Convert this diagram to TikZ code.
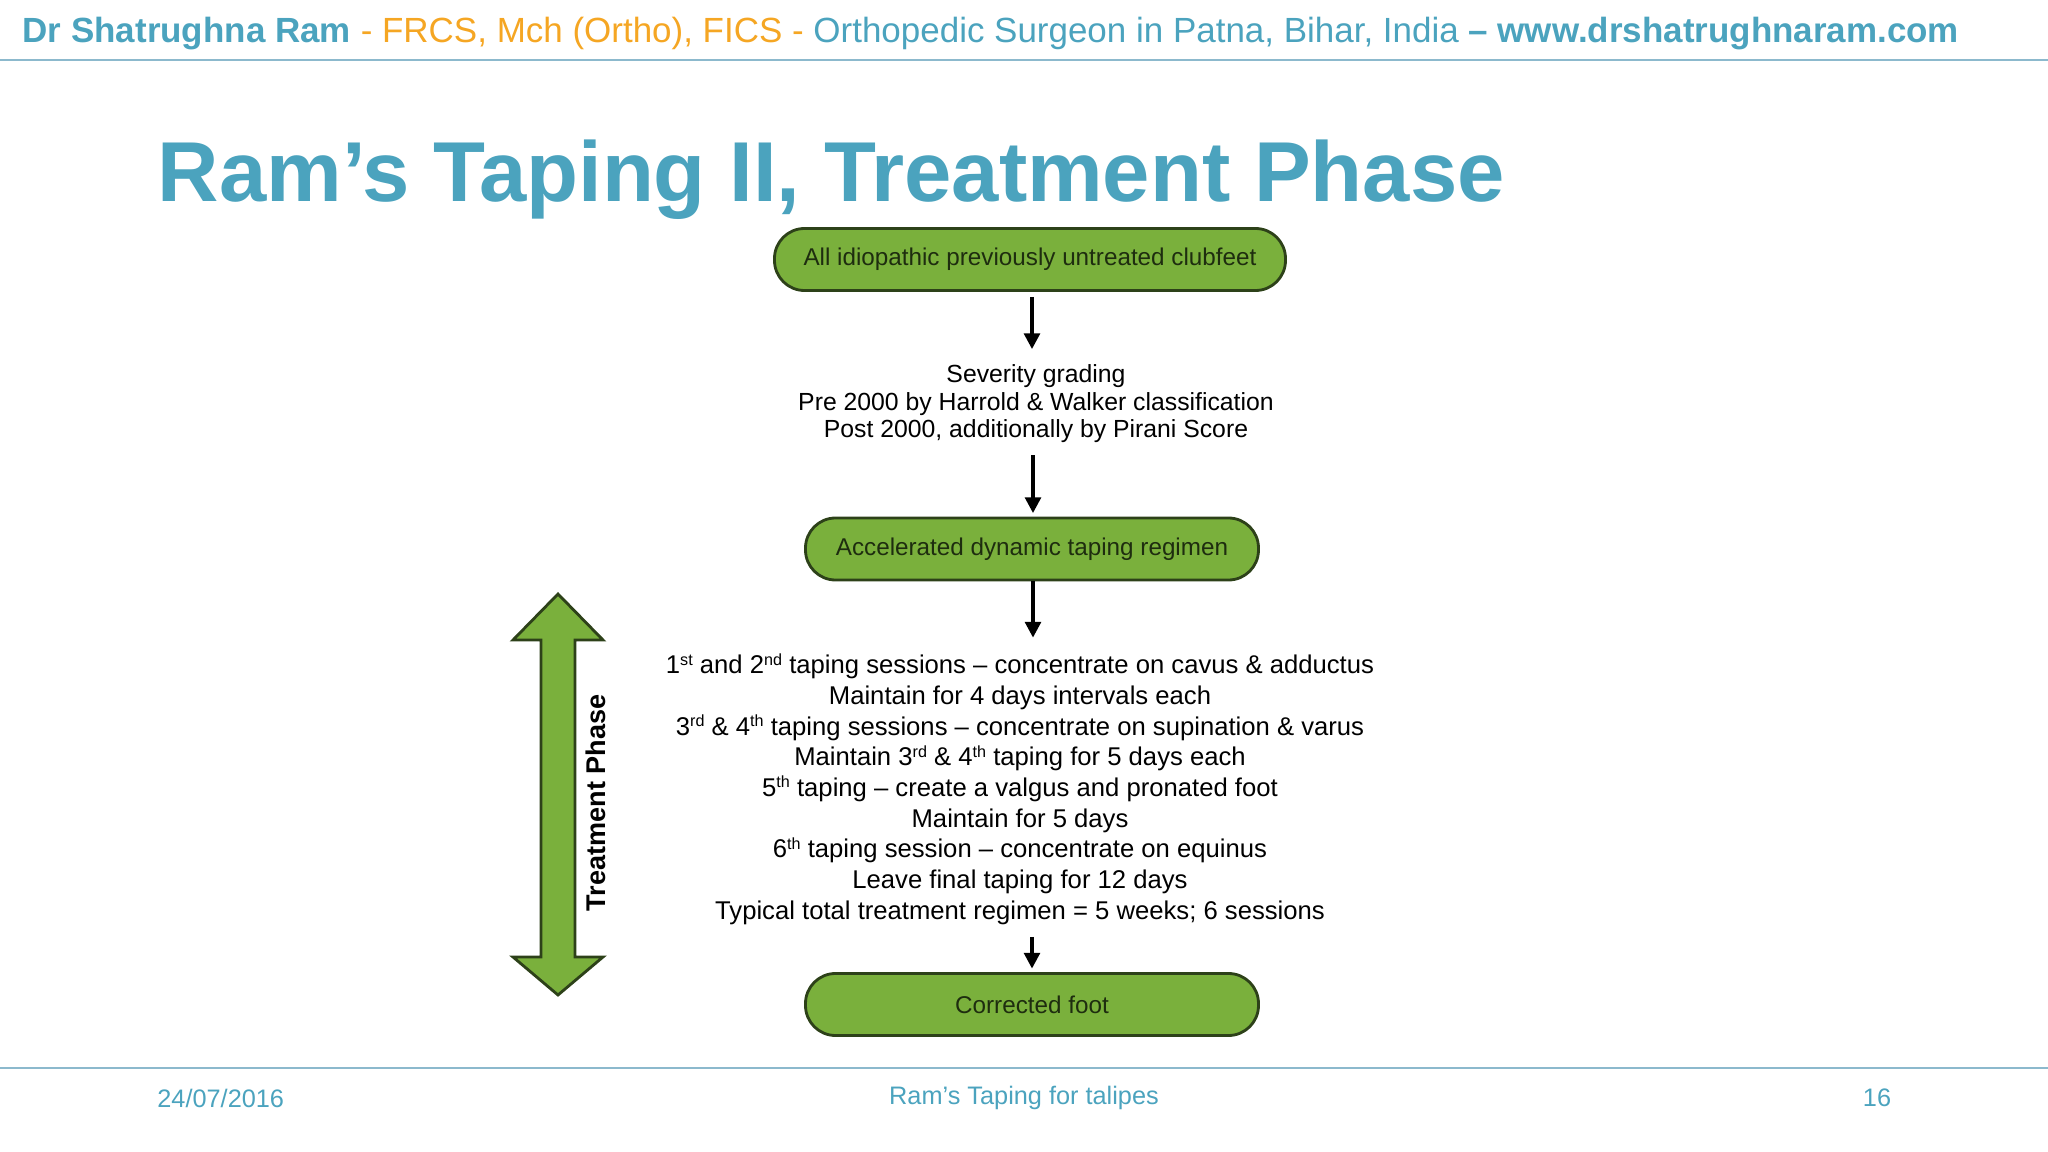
\documentclass[tikz,border=0pt]{standalone}
\usepackage{fontspec}
\setmainfont{Liberation Sans}
\usepackage{tikz}
\usetikzlibrary{arrows.meta, positioning}
\definecolor{tealhead}{RGB}{75,163,190}
\definecolor{orangehead}{RGB}{245,166,35}
\definecolor{rulecol}{RGB}{140,185,205}
\definecolor{boxgreen}{RGB}{122,176,60}
\definecolor{boxedge}{RGB}{45,65,25}
\definecolor{boxtext}{RGB}{30,45,15}
\newcommand{\ordsup}[1]{\raisebox{0.62ex}{\fontsize{4.6}{5}\selectfont #1}}

\begin{document}
\begin{tikzpicture}[>={Triangle[length=4.5pt, width=4.5pt]},
    greenbox/.style={draw=boxedge, fill=boxgreen, line width=0.8pt, rounded corners=0.3cm,
      minimum height=0.62cm, text=boxtext, font=\fontsize{6.9}{8}\selectfont},
    flowarrow/.style={->, line width=1pt, shorten >=1pt},
    bodytext/.style={align=center, font=\fontsize{7.3}{8.73}\selectfont},
    foottext/.style={text=tealhead, font=\fontsize{7.2}{8}\selectfont}]
    \useasboundingbox (0,0) rectangle (20.48,-11.52);

    % header and title
    \node[anchor=base west, inner sep=0pt] (header) at (0.22,-0.43) {\fontsize{9.95}{11}\selectfont
      \textcolor{tealhead}{\bfseries Dr Shatrughna Ram}\ \textcolor{orangehead}{- FRCS, Mch (Ortho), FICS -}\ \textcolor{tealhead}{Orthopedic Surgeon in Patna, Bihar, India \bfseries -- www.drshatrughnaram.com}};
    \draw[rulecol, line width=0.6pt] (0,-0.60) -- (20.48,-0.60);
    \node[anchor=base west, inner sep=0pt, text=tealhead] (title) at (1.57,-2.02)
      {\fontsize{24.2}{28}\selectfont\bfseries Ram’s Taping II, Treatment Phase};

    % flow chart
    \node[greenbox, minimum width=5.11cm] (untreated) at (10.30,-2.595) {All idiopathic previously untreated clubfeet};
    \node[bodytext, font=\fontsize{7.05}{7.8}\selectfont] (grading) at (10.36,-4.04)
      {Severity grading\\ Pre 2000 by Harrold \& Walker classification\\ Post 2000, additionally by Pirani Score};
    \node[greenbox, minimum width=4.53cm] (regimen) at (10.32,-5.49) {Accelerated dynamic taping regimen};
    \node[bodytext] (sessions) at (10.20,-7.89)
      {1\ordsup{st} and 2\ordsup{nd} taping sessions -- concentrate on cavus \& adductus\\
       Maintain for 4 days intervals each\\
       3\ordsup{rd} \& 4\ordsup{th} taping sessions -- concentrate on supination \& varus\\
       Maintain 3\ordsup{rd} \& 4\ordsup{th} taping for 5 days each\\
       5\ordsup{th} taping -- create a valgus and pronated foot\\
       Maintain for 5 days\\
       6\ordsup{th} taping session -- concentrate on equinus\\
       Leave final taping for 12 days\\
       Typical total treatment regimen = 5 weeks; 6 sessions};
    \node[greenbox, minimum width=4.53cm] (corrected) at (10.32,-10.045) {Corrected foot};

    \draw[flowarrow] (untreated.south -| 10.32,0) ++(0,-0.05) -- (grading.north -| 10.32,0);
    \draw[flowarrow] (grading.south -| 10.33,0) -- (regimen.north -| 10.33,0);
    \draw[flowarrow] (regimen.south -| 10.33,0) -- (sessions.north -| 10.33,0);
    \draw[flowarrow] (sessions.south -| 10.32,0) -- (corrected.north -| 10.32,0);

    % treatment phase arrow
    \draw[fill=boxgreen, draw=boxedge, line width=0.8pt, line join=miter]
      (5.58,-5.94) -- (6.03,-6.40) -- (5.75,-6.40) -- (5.75,-9.57) -- (6.03,-9.57)
      -- (5.58,-9.95) -- (5.13,-9.57) -- (5.41,-9.57) -- (5.41,-6.40) -- (5.13,-6.40) -- cycle;
    \node[rotate=90, font=\fontsize{7.7}{9}\selectfont\bfseries] (phase) at (5.96,-8.03) {Treatment Phase};

    % footer
    \draw[rulecol, line width=0.6pt] (0,-10.68) -- (20.48,-10.68);
    \node[foottext, anchor=west] (date) at (1.45,-10.98) {24/07/2016};
    \node[foottext] (foottitle) at (10.24,-10.98) {Ram’s Taping for talipes};
    \node[foottext] (pagenum) at (18.77,-10.98) {16};
\end{tikzpicture}
\end{document}
